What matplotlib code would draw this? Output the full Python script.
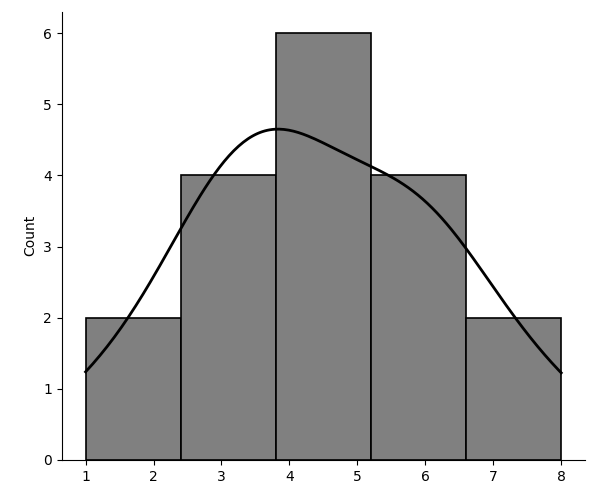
import matplotlib
matplotlib.use("Agg")
import matplotlib.pyplot as plt
import seaborn as sns

values = [1, 2, 3, 3, 3, 3, 4, 4, 4, 4, 5, 5, 6, 6, 6, 6, 7, 8]

fig = plt.figure(figsize=(6, 4.96), dpi=100)
ax = fig.add_axes([0.103, 0.073, 0.872, 0.903])
sns.histplot(values, bins=5, kde=True, color="gray", alpha=1, edgecolor="black",
             linewidth=1.2, line_kws={"linewidth": 2}, ax=ax)
for ln in ax.lines:
    ln.set_color("black")
ax.spines["top"].set_visible(False)
ax.spines["right"].set_visible(False)
ax.set_ylabel("Count")
fig.savefig("out.png")
